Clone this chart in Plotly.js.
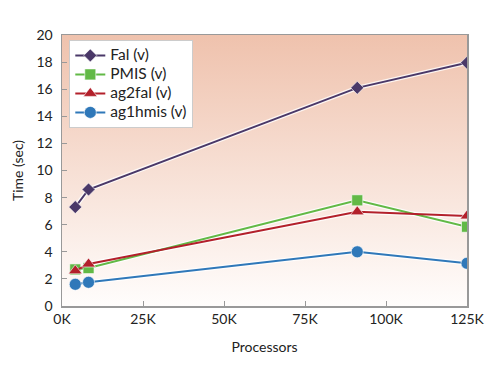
<!DOCTYPE html>
<html><head><meta charset="utf-8">
<script src="https://cdn.plot.ly/plotly-3.0.1.min.js"></script>
<style>html,body{margin:0;padding:0;background:#fff}#chart{width:500px;height:368px}</style>
</head><body><div id="chart"></div>
<script>
const processors = [4096, 8192, 91125, 125000];
const seriesNames = ["Fal (v)", "PMIS (v)", "ag2fal (v)", "ag1hmis (v)"];
const fal = [7.3, 8.6, 16.1, 17.95];
const pmis = [2.7, 2.8, 7.8, 5.85];
const ag2fal = [2.6, 3.1, 6.95, 6.65];
const ag1hmis = [1.6, 1.75, 4.0, 3.15];
const xTickVals = [0, 25000, 50000, 75000, 100000, 125000];
const xTickText = ["0K", "25K", "50K", "75K", "100K", "125K"];

const colors = ["#4a3868", "#62b946", "#b3202b", "#2f78b9"];
const symbols = ["diamond", "square", "triangle-up", "circle"];
const sizes = [10, 11, 12, 12];
const data = [fal, pmis, ag2fal, ag1hmis];

const traces = [];
data.forEach((ys, i) => {
  traces.push({x: processors, y: ys, mode: "lines", showlegend: false, hoverinfo: "skip",
    line: {color: "rgba(255,255,255,0.8)", width: 4.5}});
});
data.forEach((ys, i) => {
  traces.push({x: processors, y: ys, name: '<span style="font-size:15.5px">' + seriesNames[i] + '</span>',
    mode: "lines+markers",
    line: {color: colors[i], width: 2},
    marker: {color: colors[i], symbol: symbols[i], size: sizes[i], line: {color: "rgba(255,255,255,0.6)", width: 1}}});
});

const grad = 'data:image/svg+xml;utf8,' + encodeURIComponent(
 '<svg xmlns="http://www.w3.org/2000/svg" width="100" height="100" preserveAspectRatio="none"><defs><linearGradient id="g" x1="0" y1="0" x2="0" y2="1"><stop offset="0" stop-color="#efc2ad"/><stop offset="1" stop-color="#fffdfc"/></linearGradient></defs><rect width="100" height="100" fill="url(#g)"/></svg>');

const font = {family: "Lato, Open Sans, sans-serif", size: 14, color: "#222"};
Plotly.newPlot("chart", traces, {
  width: 500, height: 368,
  margin: {l: 62, r: 33, t: 35, b: 62},
  paper_bgcolor: "#fff", plot_bgcolor: "rgba(0,0,0,0)",
  font: font,
  images: [{source: grad, xref: "paper", yref: "paper", x: 0, y: 1, sizex: 1, sizey: 1,
    sizing: "stretch", layer: "below", xanchor: "left", yanchor: "top"}],
  xaxis: {range: [0, 125000], tickvals: xTickVals, ticktext: xTickText,
    showgrid: false, zeroline: false, showline: true, linecolor: "#999", linewidth: 1.5, mirror: true,
    ticks: "inside", ticklen: 5, tickcolor: "#999", tickfont: {size: 14},
    title: {text: "Processors", font: font, standoff: 16}},
  yaxis: {range: [0, 20], dtick: 2, showgrid: false, zeroline: false, showline: true,
    linecolor: "#999", linewidth: 1.5, mirror: true, ticks: "inside", ticklen: 5, tickcolor: "#999",
    tickfont: {size: 14}, ticklabelstandoff: 5,
    title: {text: "Time (sec)", font: font, standoff: 9}},
  legend: {x: 0.018, y: 0.982, xanchor: "left", yanchor: "top", bgcolor: "#fff",
    bordercolor: "#ccc", borderwidth: 1, font: {family: font.family, size: 12, color: "#222"}, tracegroupgap: 0, itemwidth: 30},
  showlegend: true
}, {displayModeBar: false, staticPlot: true});
</script></body></html>
